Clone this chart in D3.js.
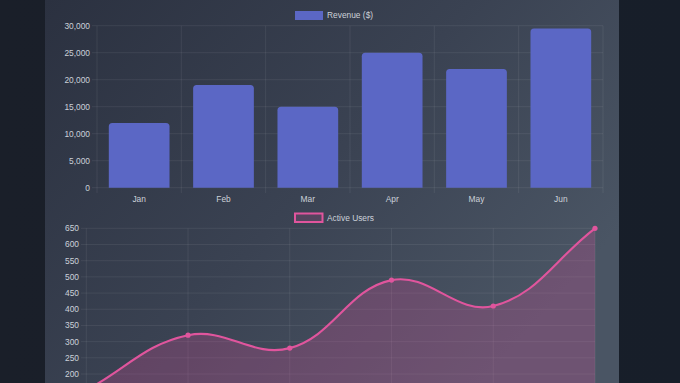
<!DOCTYPE html>
<html><head><meta charset="utf-8">
<script src="https://cdn.jsdelivr.net/npm/d3@7"></script>
<style>html,body{margin:0;padding:0;background:#191e28;overflow:hidden}svg{display:block}</style>
</head><body>
<svg id="c" width="680" height="383"></svg>
<script>
const months = ["Jan","Feb","Mar","Apr","May","Jun"];
const revenue = [12000,19000,15000,25000,22000,29500];
const activeUsers = [150,320,280,490,410,650];
const revenueTicks = [0,5000,10000,15000,20000,25000,30000];
const userTicks = d3.range(0,700,50);
const revenueLabel = "Revenue ($)";
const usersLabel = "Active Users";

const svg = d3.select("#c");
const font = "'Liberation Sans', Arial, Helvetica, sans-serif";
const textCol = "#ccd1d9";
const gridCol = "rgba(255,255,255,0.07)";

// backgrounds
const defs = svg.append("defs");
const g1 = defs.append("linearGradient").attr("id","panel").attr("x1","0").attr("y1","0").attr("x2","1").attr("y2","0.6");
g1.append("stop").attr("offset","0").attr("stop-color","#2b3140");
g1.append("stop").attr("offset","0.55").attr("stop-color","#3a4252");
g1.append("stop").attr("offset","1").attr("stop-color","#4a5564");
const g0 = defs.append("linearGradient").attr("id","outer").attr("x1","0").attr("x2","1");
g0.append("stop").attr("offset","0").attr("stop-color","#1a1f29");
g0.append("stop").attr("offset","1").attr("stop-color","#171e29");
svg.append("rect").attr("width",680).attr("height",383).attr("fill","url(#outer)");
svg.append("rect").attr("x",45).attr("y",0).attr("width",574).attr("height",383).attr("fill","url(#panel)");

// ---------- Top bar chart ----------
const x1 = d3.scaleBand().domain(months).range([97,603]).padding(0);
const y1 = d3.scaleLinear().domain([0,30000]).range([187.7,25.7]);
const topG = svg.append("g");
topG.selectAll("line.h").data(revenueTicks).join("line")
  .attr("x1",92).attr("x2",603).attr("y1",d=>y1(d)).attr("y2",d=>y1(d))
  .attr("stroke",gridCol).attr("stroke-width",1);
const vb = months.map(m=>x1(m)).concat([x1.range()[1]]);
topG.selectAll("line.v").data(vb).join("line")
  .attr("x1",d=>d).attr("x2",d=>d).attr("y1",25.7).attr("y2",193)
  .attr("stroke",gridCol).attr("stroke-width",1);
topG.selectAll("text.yt").data(revenueTicks).join("text")
  .attr("x",90).attr("y",d=>y1(d)).attr("dy","0.35em").attr("text-anchor","end")
  .attr("font-family",font).attr("font-size",8.4).attr("fill",textCol)
  .text(d=>d3.format(",")(d));
topG.selectAll("text.xt").data(months).join("text")
  .attr("x",d=>x1(d)+x1.bandwidth()/2).attr("y",199).attr("dy","0.35em").attr("text-anchor","middle")
  .attr("font-family",font).attr("font-size",8.4).attr("fill",textCol).text(d=>d);
const bw = x1.bandwidth()*0.72;
topG.selectAll("path.bar").data(revenue).join("path")
  .attr("fill","#5b67c5")
  .attr("d",(d,i)=>{
    const x = x1(months[i])+x1.bandwidth()/2-bw/2, yT = y1(d), yB = y1(0), r = 3.5;
    const p = d3.path();
    p.moveTo(x,yB); p.lineTo(x,yT+r); p.quadraticCurveTo(x,yT,x+r,yT);
    p.lineTo(x+bw-r,yT); p.quadraticCurveTo(x+bw,yT,x+bw,yT+r); p.lineTo(x+bw,yB); p.closePath();
    return p.toString();
  });
// legend
svg.append("rect").attr("x",295).attr("y",11).attr("width",28).attr("height",9).attr("fill","#5b67c5");
svg.append("text").attr("x",327).attr("y",15.5).attr("dy","0.35em").attr("font-family",font)
  .attr("font-size",8.4).attr("fill",textCol).text(revenueLabel);

// ---------- Bottom line chart ----------
const x2 = d3.scalePoint().domain(months).range([86.3,595]);
const y2 = d3.scaleLinear().domain([0,650]).range([438.8,228.3]);
const botG = svg.append("g");
botG.selectAll("line.h").data(userTicks).join("line")
  .attr("x1",81).attr("x2",595).attr("y1",d=>y2(d)).attr("y2",d=>y2(d))
  .attr("stroke",gridCol).attr("stroke-width",1);
botG.selectAll("line.v").data(months).join("line")
  .attr("x1",d=>x2(d)).attr("x2",d=>x2(d)).attr("y1",228.3).attr("y2",440)
  .attr("stroke",gridCol).attr("stroke-width",1);
// only labels that fall inside the visible window
botG.selectAll("text.yt").data(userTicks.filter(d=>y2(d) < 379)).join("text")
  .attr("x",79).attr("y",d=>y2(d)).attr("dy","0.35em").attr("text-anchor","end")
  .attr("font-family",font).attr("font-size",8.4).attr("fill",textCol).text(d=>d);

// Chart.js-like spline (tension 0.4)
const pts = activeUsers.map((v,i)=>({x:x2(months[i]), y:y2(v)}));
const tension = 0.4;
pts.forEach((p,i)=>{
  const prev = pts[i-1]||p, next = pts[i+1]||p;
  const d01 = Math.hypot(p.x-prev.x,p.y-prev.y), d12 = Math.hypot(next.x-p.x,next.y-p.y);
  let s01 = d01/(d01+d12), s12 = d12/(d01+d12);
  if(isNaN(s01)) s01=0; if(isNaN(s12)) s12=0;
  const fa = tension*s01, fb = tension*s12;
  p.cpPx = p.x - fa*(next.x-prev.x); p.cpPy = p.y - fa*(next.y-prev.y);
  p.cpNx = p.x + fb*(next.x-prev.x); p.cpNy = p.y + fb*(next.y-prev.y);
});
function linePath(close){
  const p = d3.path();
  p.moveTo(pts[0].x,pts[0].y);
  for(let i=1;i<pts.length;i++){
    const a=pts[i-1], b=pts[i];
    p.bezierCurveTo(a.cpNx,a.cpNy,b.cpPx,b.cpPy,b.x,b.y);
  }
  if(close){ p.lineTo(pts[pts.length-1].x,y2(0)); p.lineTo(pts[0].x,y2(0)); p.closePath(); }
  return p.toString();
}
botG.append("path").attr("d",linePath(true)).attr("fill","rgba(226,80,160,0.24)");
botG.append("path").attr("d",linePath(false)).attr("fill","none").attr("stroke","#e0559d").attr("stroke-width",2.1);
botG.selectAll("circle").data(activeUsers).join("circle")
  .attr("cx",(d,i)=>x2(months[i])).attr("cy",d=>y2(d)).attr("r",2.6).attr("fill","#e0559d");
// legend
svg.append("rect").attr("x",295).attr("y",213.5).attr("width",27.5).attr("height",8.5)
  .attr("fill","rgba(226,80,160,0.15)").attr("stroke","#e0559d").attr("stroke-width",2);
svg.append("text").attr("x",327).attr("y",217.8).attr("dy","0.35em").attr("font-family",font)
  .attr("font-size",8.4).attr("fill",textCol).text(usersLabel);
</script>
</body></html>
